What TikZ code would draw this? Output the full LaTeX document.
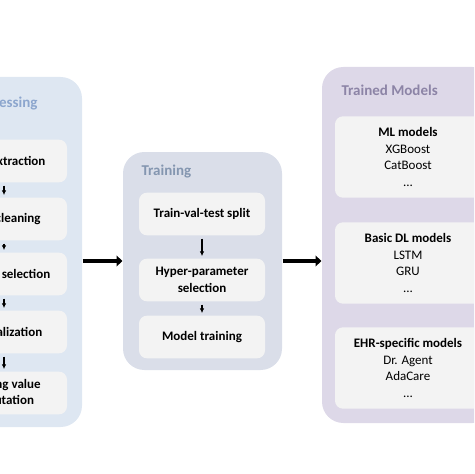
\documentclass[tikz,border=0pt]{standalone}
\usepackage{fontspec}
\setmainfont{Carlito}
\usetikzlibrary{arrows.meta}
\definecolor{prepblue}{RGB}{222,231,242}
\definecolor{trainblue}{RGB}{218,222,233}
\definecolor{modelpurple}{RGB}{221,216,232}
\definecolor{stepgray}{RGB}{243,243,243}
\definecolor{preptitle}{RGB}{140,166,206}
\definecolor{traintitle}{RGB}{132,150,176}
\definecolor{modeltitle}{RGB}{140,132,166}
\tikzset{every picture/.style={line width=0.75pt}}

\begin{document}
\begin{tikzpicture}[x=0.75pt,y=0.75pt,yscale=-1,xscale=1,
  panel/.style={rounded corners=16pt, inner sep=0pt},
  paneltitle/.style={inner sep=0.75pt, font=\bfseries\fontsize{11.25}{13}\selectfont},
  stepbox/.style={fill=stepgray, rounded corners=6pt, minimum width=94.5pt, minimum height=32pt,
    inner sep=0pt, align=center, font=\bfseries\fontsize{9.75}{12.4}\selectfont},
  modelbox/.style={fill=stepgray, rounded corners=6pt, minimum width=109.5pt, minimum height=61pt,
    inner sep=0pt, align=center, font=\fontsize{9.75}{12.4}\selectfont},
  steparrow/.style={-{Latex[length=3.6pt,width=3.4pt]}, line width=0.8pt, shorten <=2pt, shorten >=1.5pt},
  bigarrow/.style={-{Triangle[length=4.5pt,width=8pt]}, line width=3.6pt}
]
\useasboundingbox (0,0) rectangle (474,474);
\clip (0,0) rectangle (474,474);

%Shape: Panels
\node [panel, fill=prepblue, minimum width=119.25pt, minimum height=262.5pt] (prep) at (2.5,252) {};
\node [panel, fill=trainblue, minimum width=119.25pt, minimum height=163.5pt] (train) at (202.5,261) {};
\node [panel, fill=modelpurple, minimum width=129pt, minimum height=267pt] (models) at (408,245) {};

% Text Node
\draw (39,104) node [anchor=east][paneltitle, text=preptitle] {Preprocessing};
% Text Node
\draw (140,172) node [anchor=west][paneltitle, text=traintitle] {Training};
% Text Node
\draw (340,90) node [anchor=west][paneltitle, text=modeltitle] {Trained Models};

%Preprocessing steps
\node [stepbox] (extract) at (4,161) {Data extraction};
\node [stepbox] (clean) at (4,219) {Data cleaning};
\node [stepbox] (select) at (4,274) {Feature selection};
\node [stepbox] (norm) at (4,332) {Normalization};
\node [stepbox] (impute) at (4,393) {Missing value\\imputation};

%Training steps
\node [stepbox] (split) at (202,214) {Train-val-test split};
\node [stepbox] (hyper) at (202,280) {Hyper-parameter\\selection};
\node [stepbox] (fit) at (202,337) {Model training};

%Model groups
\node [modelbox] (ml) at (408,157) {\textbf{ML models}\\XGBoost\\CatBoost\\...};
\node [modelbox] (dl) at (408,263) {\textbf{Basic DL models}\\LSTM\\GRU\\...};
\node [modelbox] (ehr) at (408,368) {\textbf{EHR-specific models}\\Dr. Agent\\AdaCare\\...};

%Straight Lines
\draw [steparrow] (extract.south) -- (clean.north);
\draw [steparrow] (clean.south) -- (select.north);
\draw [steparrow] (select.south) -- (norm.north);
\draw [steparrow] (norm.south) -- (impute.north);
\draw [steparrow] (split.south) -- (hyper.north);
\draw [steparrow] (hyper.south) -- (fit.north);

%Straight Lines
\draw [bigarrow] (train.west -| prep.east) -- (train.west);
\draw [bigarrow] (train.east) -- (train.east -| models.west);

\end{tikzpicture}
\end{document}
